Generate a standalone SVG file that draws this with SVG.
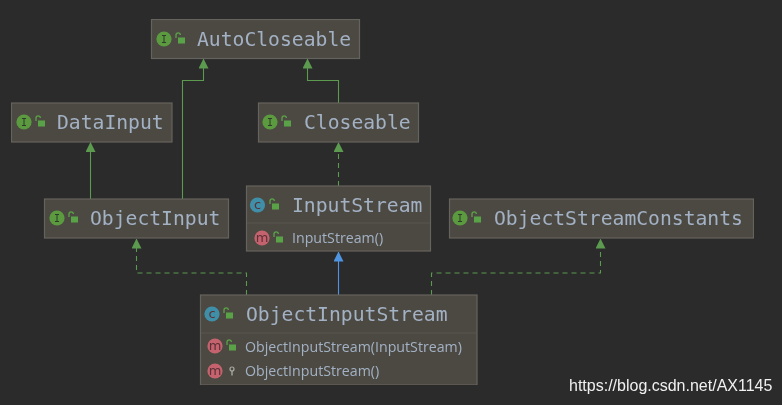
<svg xmlns="http://www.w3.org/2000/svg" width="782" height="405" viewBox="0 0 782 405">
<style>
.box{fill:#4c4a43;stroke:#66645d;stroke-width:1.2}
.div{stroke:#57544c;stroke-width:1}
.t{font-family:"DejaVu Sans Mono","Liberation Mono",monospace;font-size:19.7px;fill:#a3b1c4}
.m{font-family:"Open Sans","Noto Sans",sans-serif;font-size:14.2px;fill:#a3b1c4}
.l{fill:none;stroke:#5b9a50;stroke-width:1.1}
.d{stroke-dasharray:5 4}
.ig{fill:#5b9a3f}
.ic{fill:#3f8fa8}
.im{fill:#c4636d}
.it{font-family:"DejaVu Sans Mono",monospace;font-size:10px;text-anchor:middle;fill:#2d3a2a}
.ib{font-family:"DejaVu Sans",sans-serif;font-size:13px;text-anchor:middle;fill:#5a3036}
.lk{fill:#5aa246}
.sh{fill:none;stroke:#5aa246;stroke-width:1.3}
</style>
<defs>
<filter id="soft" x="0" y="0" width="100%" height="100%"><feGaussianBlur stdDeviation="0.4"/></filter>
<g id="lock"><path class="sh" d="M-4-1v-3a2.2 2.2 0 0 1 4.400 0"/><rect class="lk" x="-2" y="-1.500" width="7" height="6"/></g>
<g id="ii"><circle class="ig" r="7.600"/><text class="it" y="3.500">I</text></g>
<g id="ic"><circle class="ic" r="7.600"/><text class="ib" y="4" fill="#20404a">c</text></g>
<g id="im"><circle class="im" r="7.600"/><text class="ib" y="4">m</text></g>
<marker id="ag" markerUnits="userSpaceOnUse" markerWidth="10" markerHeight="10" refX="9.500" refY="5" orient="auto"><path d="M0 0L10 5L0 10Z" fill="#5b9a50"/></marker>
<marker id="ab" markerUnits="userSpaceOnUse" markerWidth="10" markerHeight="10" refX="9.500" refY="5" orient="auto"><path d="M0 0L10 5L0 10Z" fill="#4f94e0"/></marker>
</defs>
<rect width="782" height="405" fill="#2b2b2b"/>
<g filter="url(#soft)">
<g id="connectors">
<path class="l" marker-end="url(#ag)" d="M182.500 199V80.500H203.500V59"/>
<path class="l" marker-end="url(#ag)" d="M338.500 103V80.500H307.500V59"/>
<path class="l" marker-end="url(#ag)" d="M90.500 199V142.500"/>
<path class="l d" marker-end="url(#ag)" d="M338.500 186V142.500"/>
<path class="l d" marker-end="url(#ag)" d="M246.500 295V273H136.500V239"/>
<path class="l d" marker-end="url(#ag)" d="M431.500 295V273H600.500V239"/>
<path fill="none" stroke="#4f94e0" stroke-width="1.100" marker-end="url(#ab)" d="M338.500 295V252"/>
</g>
<g id="AutoCloseable"><rect class="box" x="151.500" y="19.500" width="208" height="39"/><use href="#ii" x="164" y="39"/><use href="#lock" x="180" y="39"/><text class="t" x="197" y="45.500">AutoCloseable</text></g>
<g id="DataInput"><rect class="box" x="11.500" y="103" width="160.500" height="39"/><use href="#ii" x="24" y="122"/><use href="#lock" x="40" y="122"/><text class="t" x="57" y="128.500">DataInput</text></g>
<g id="Closeable"><rect class="box" x="258.500" y="103" width="160" height="39"/><use href="#ii" x="270" y="122"/><use href="#lock" x="286" y="122"/><text class="t" x="304" y="128.500">Closeable</text></g>
<g id="ObjectInput"><rect class="box" x="44.500" y="199" width="184" height="39"/><use href="#ii" x="57" y="218"/><use href="#lock" x="73" y="218"/><text class="t" x="90" y="224.500">ObjectInput</text></g>
<g id="InputStream"><rect class="box" x="246.500" y="186" width="184" height="65"/><line class="div" x1="247" x2="430" y1="223" y2="223"/><use href="#ic" x="257.500" y="205"/><use href="#lock" x="274" y="205"/><text class="t" x="292" y="211.500">InputStream</text><use href="#im" x="262" y="238"/><use href="#lock" x="278" y="238"/><text class="m" x="292" y="243">InputStream()</text></g>
<g id="ObjectStreamConstants"><rect class="box" x="449.500" y="199" width="304" height="39"/><use href="#ii" x="460" y="218"/><use href="#lock" x="476" y="218"/><text class="t" x="494" y="224.500">ObjectStreamConstants</text></g>
<g id="ObjectInputStream"><rect class="box" x="200.500" y="295" width="276.500" height="90"/><line class="div" x1="201" x2="476" y1="333" y2="333"/><use href="#ic" x="212" y="314"/><use href="#lock" x="228" y="314"/><text class="t" x="246" y="320.500">ObjectInputStream</text><use href="#im" x="215" y="346"/><use href="#lock" x="231" y="346"/><text class="m" x="245" y="352">ObjectInputStream(InputStream)</text><use href="#im" x="215" y="371"/><circle cx="232" cy="369" r="2" fill="none" stroke="#a9a9a0" stroke-width="1.200"/><path d="M232 371v4.500" stroke="#a9a9a0" stroke-width="1.400"/><text class="m" x="245" y="376">ObjectInputStream()</text></g>
</g>
<text x="569" y="391" font-family="Liberation Sans, Arial, sans-serif" font-size="16" fill="#f0f0f0">https://blog.csdn.net/AX1145</text>
</svg>
